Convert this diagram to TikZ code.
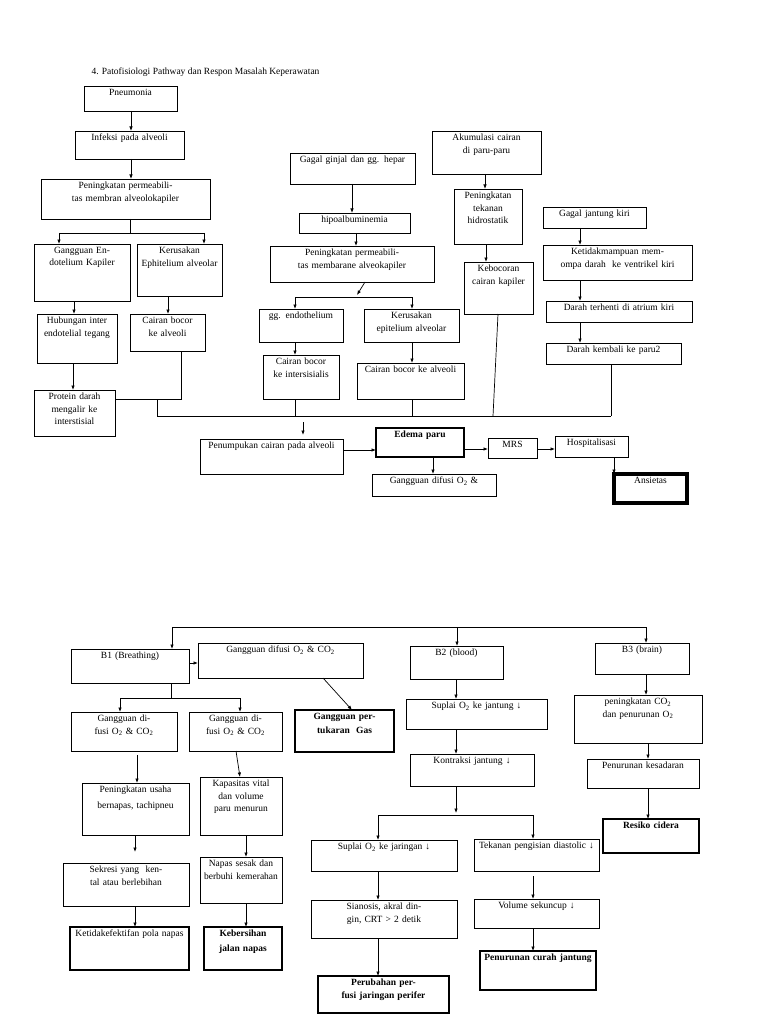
\documentclass[tikz,border=0pt]{standalone}
\usepackage{fontspec}
\setmainfont{Liberation Serif}
\usetikzlibrary{arrows.meta}
\newcommand\sub[1]{\textsubscript{#1}}
\newcommand\bx[7][]{%
 \pgfmathsetlengthmacro\bw{(#4-#2)*1pt}%
 \pgfmathsetlengthmacro\bh{(#5-#3)*1pt}%
 \pgfmathsetlengthmacro\tw{(#4-#2-7)*1pt}%
 \node[box,#1,minimum width=\bw,minimum height=\bh] (#6) at ({(#2+#4)/2},{(#3+#5)/2}) {};
 \node[txt,text width=\tw,anchor=north] at ({(#2+#4)/2},{#3+2}) {#7};}
\begin{document}
\begin{tikzpicture}[x=1pt,y=-1pt,
 box/.style={draw,line width=0.8pt,inner sep=0pt,outer sep=0pt},
 thk/.style={line width=2.2pt},
 thkk/.style={line width=3.2pt},
 txt/.style={font=\fontsize{9.5}{12.5}\selectfont,align=center,inner sep=1pt},
 arr/.style={line width=0.7pt,-{Latex[length=4.5pt,width=3.5pt]}},
 ln/.style={line width=0.7pt}]
\useasboundingbox (0,0) rectangle (768,1024);
\node[anchor=west,font=\fontsize{9.5}{12}\selectfont] (title) at (88,72) {4. Patofisiologi Pathway dan Respon Masalah Keperawatan};
% ---------- top half ----------
\bx{84}{86}{177}{111}{pn}{Pneumonia}
\bx{75}{131}{184}{159}{inf}{Infeksi pada alveoli}
\bx{41}{179}{210}{219}{perm}{\raggedright Peningkatan permeabilitas membran alveolokapiler}
\bx{34}{244}{130}{301}{gek}{\raggedright\baselineskip=14.5pt Gangguan Endotelium Kapiler}
\bx{137}{244}{222}{296}{kep}{\raggedright\baselineskip=14.5pt Kerusakan Ephitelium alveolar}
\bx{37}{314}{117}{363}{hub}{\raggedright\baselineskip=14.5pt Hubungan inter endotelial tegang}
\bx{130}{314}{205}{351}{cba}{\raggedright\baselineskip=14.5pt Cairan bocor ke alveoli}
\bx{34}{390}{115}{436}{pro}{\raggedright\baselineskip=14.5pt Protein darah mengalir ke interstisial}
\bx{290}{153}{415}{184}{ggj}{Gagal ginjal dan gg. hepar}
\bx{299}{213}{410}{233}{hip}{hipoalbuminemia}
\bx{270}{246}{434}{282}{pm2}{Peningkatan permeabilitas membarane alveokapiler}
\bx{259}{309}{343}{342}{gge}{gg. endothelium}
\bx{364}{309}{459}{342}{kea}{Kerusakan epitelium alveolar}
\bx{263}{355}{339}{399}{cbi}{Cairan bocor ke intersisialis}
\bx{357}{363}{464}{399}{cb2}{Cairan bocor ke alveoli}
\bx{432}{131}{541}{174}{aku}{Akumulasi cairan di paru-paru}
\bx{454}{189}{522}{244}{pth}{Peningkatan tekanan hidrostatik}
\bx{464}{262}{533}{314}{keb}{Kebocoran cairan kapiler}
\bx{543}{207}{646}{228}{gjk}{Gagal jantung kiri}
\bx{543}{245}{692}{280}{ket}{\raggedright Ketidakmampuan memompa darah~ ke ventrikel kiri}
\bx{546}{301}{692}{322}{dth}{\raggedright Darah terhenti di atrium kiri}
\bx{546}{343}{681}{364}{dkp}{\raggedright Darah kembali ke paru2}
\bx{200}{439}{343}{474}{pen}{Penumpukan cairan pada alveoli}
\bx[thk]{376}{428}{464}{457}{ede}{\textbf{Edema paru}}
\bx{488}{438}{537}{458}{mrs}{MRS}
\bx{555}{436}{628}{457}{hos}{Hospitalisasi}
\bx[thkk]{614}{474}{687}{503}{ans}{\vspace{4pt}Ansietas}
\bx{372}{474}{496}{496}{gdo}{Gangguan difusi O\sub{2} \&}
% top connectors
\draw[arr] (pn.south -| 131,0) -- (inf.north -| 131,0);
\draw[arr] (inf.south -| 131,0) -- (perm.north -| 131,0);
\draw[ln] (perm.south -| 130,0) -- (130,233);
\draw[ln] (59,233) -- (204,233);
\draw[arr] (59,233) -- (gek.north -| 59,0);
\draw[arr] (204,233) -- (kep.north -| 204,0);
\draw[arr] (gek.south -| 74,0) -- (hub.north -| 74,0);
\draw[arr] (kep.south -| 168,0) -- (cba.north -| 168,0);
\draw[arr] (hub.south -| 73,0) -- (pro.north -| 73,0);
\draw[ln] (cba.south -| 181,0) -- (181,399) -- (pro.east |- 0,399);
\draw[ln] (157,399) -- (157,416) -- (611,416);
\draw[arr] (ggj.south -| 352,0) -- (hip.north -| 352,0);
\draw[arr] (hip.south -| 356,0) -- (pm2.north -| 356,0);
\draw[arr] (365,282) -- (357,295);
\draw[ln] (295,297) -- (412,297);
\draw[arr] (295,297) -- (gge.north -| 295,0);
\draw[arr] (412,297) -- (kea.north -| 412,0);
\draw[arr] (gge.south -| 295,0) -- (cbi.north -| 295,0);
\draw[arr] (kea.south -| 412,0) -- (cb2.north -| 412,0);
\draw[ln] (cbi.south -| 295,0) -- (295,416);
\draw[ln] (cb2.south -| 412,0) -- (412,416);
\draw[arr] (aku.south -| 485,0) -- (pth.north -| 485,0);
\draw[arr] (pth.south -| 486,0) -- (keb.north -| 486,0);
\draw[ln] (keb.south -| 498,0) -- (493,416);
\draw[arr] (gjk.south -| 580,0) -- (ket.north -| 580,0);
\draw[arr] (ket.south -| 580,0) -- (dth.north -| 580,0);
\draw[arr] (dth.south -| 580,0) -- (dkp.north -| 580,0);
\draw[ln] (dkp.south -| 611,0) -- (611,416);
\draw[arr] (303,422) -- (303,435);
\draw[arr] (pen.east |- 0,450) -- (ede.west |- 0,450);
\draw[arr] (ede.east |- 0,449) -- (mrs.west |- 0,449);
\draw[arr] (mrs.east |- 0,449) -- (hos.west |- 0,449);
\draw[arr] (hos.south -| 614,0) -- (ans.north -| 614,0);
\draw[arr] (ede.south -| 433,0) -- (gdo.north -| 433,0);
% ---------- bottom half ----------
\bx{71}{649}{189}{683}{b1}{B1 (Breathing)}
\bx{198}{643}{363}{678}{gdt}{Gangguan difusi O\sub{2} \& CO\sub{2}}
\bx[thk]{295}{710}{394}{752}{gpg}{\vspace{2pt}\textbf{Gangguan pertukaran~ Gas}}
\bx{71}{712}{177}{751}{gd1}{Gangguan difusi O\sub{2} \& CO\sub{2}}
\bx{189}{712}{282}{751}{gd2}{Gangguan difusi O\sub{2} \& CO\sub{2}}
\bx{82}{783}{189}{835}{pub}{\vspace{3pt}Peningkatan usaha bernapas, tachipneu}
\bx{200}{777}{282}{835}{kap}{\raggedright\baselineskip=14.5pt Kapasitas vital dan volume paru menurun}
\bx{63}{863}{189}{906}{sek}{Sekresi yang~ kental atau berlebihan}
\bx{200}{857}{282}{903}{nap}{Napas sesak dan berbuhi kemerahan}
\bx[thk]{70}{927}{189}{970}{kpn}{\vspace{2pt}Ketidakefektifan pola napas}
\bx[thk]{204}{927}{282}{970}{kjn}{\vspace{2pt}\textbf{Kebersihan jalan napas}}
\bx{410}{646}{503}{679}{b2}{B2 (blood)}
\bx{406}{699}{547}{729}{soj}{Suplai O\sub{2} ke jantung ↓}
\bx{410}{754}{534}{786}{kon}{Kontraksi jantung ↓}
\bx{311}{840}{457}{871}{sor}{Suplai O\sub{2} ke jaringan ↓}
\bx{474}{839}{599}{871}{tek}{Tekanan pengisian diastolic ↓}
\bx{311}{900}{457}{938}{sia}{Sianosis, akral dingin, CRT \textgreater{} 2 detik}
\bx[thk]{318}{976}{449}{1013}{ppj}{\textbf{Perubahan perfusi jaringan perifer}}
\bx{474}{899}{599}{928}{vol}{Volume sekuncup ↓}
\bx[thk]{480}{951}{596}{990}{pcj}{\textbf{Penurunan curah jantung}}
\bx{595}{643}{689}{674}{b3}{B3 (brain)}
\bx{574}{695}{702}{743}{pco}{peningkatan CO\sub{2} dan penurunan O\sub{2}}
\bx{587}{759}{699}{788}{pks}{Penurunan kesadaran}
\bx[thk]{603}{819}{699}{853}{rci}{\vspace{2pt}\textbf{Resiko cidera}}
% bottom connectors
\draw[ln] (172,627) -- (646,627);
\draw[arr] (172,627) -- (b1.north -| 172,0);
\draw[arr] (457,627) -- (b2.north -| 457,0);
\draw[arr] (646,627) -- (b3.north -| 646,0);
\draw[arr] (b1.east |- 0,663) -- (gdt.west |- 0,663);
\draw[arr] (323,678) -- (gpg.north -| 352,0);
\draw[ln] (b1.south -| 171,0) -- (171,698);
\draw[ln] (120,698) -- (240,698);
\draw[arr] (120,698) -- (gd1.north -| 120,0);
\draw[arr] (240,698) -- (gd2.north -| 240,0);
\draw[arr] (137,755) -- (pub.north -| 137,0);
\draw[arr] (236,751) -- (kap.north -| 240,0);
\draw[arr] (pub.south -| 135,0) -- (135,852);
\draw[arr] (kap.south -| 246,0) -- (nap.north -| 246,0);
\draw[arr] (sek.south -| 135,0) -- (kpn.north -| 135,0);
\draw[arr] (nap.south -| 246,0) -- (kjn.north -| 246,0);
\draw[arr] (b2.south -| 456,0) -- (soj.north -| 456,0);
\draw[arr] (soj.south -| 456,0) -- (kon.north -| 456,0);
\draw[arr] (kon.south -| 456,0) -- (456,813);
\draw[ln] (378,815) -- (533,815);
\draw[arr] (378,815) -- (sor.north -| 378,0);
\draw[arr] (533,815) -- (tek.north -| 533,0);
\draw[arr] (sor.south -| 378,0) -- (sia.north -| 378,0);
\draw[arr] (sia.south -| 378,0) -- (ppj.north -| 378,0);
\draw[arr] (533,876) -- (vol.north -| 533,0);
\draw[arr] (vol.south -| 533,0) -- (pcj.north -| 533,0);
\draw[arr] (b3.south -| 646,0) -- (pco.north -| 646,0);
\draw[arr] (pco.south -| 648,0) -- (pks.north -| 648,0);
\draw[arr] (pks.south -| 648,0) -- (rci.north -| 648,0);
\end{tikzpicture}
\end{document}
